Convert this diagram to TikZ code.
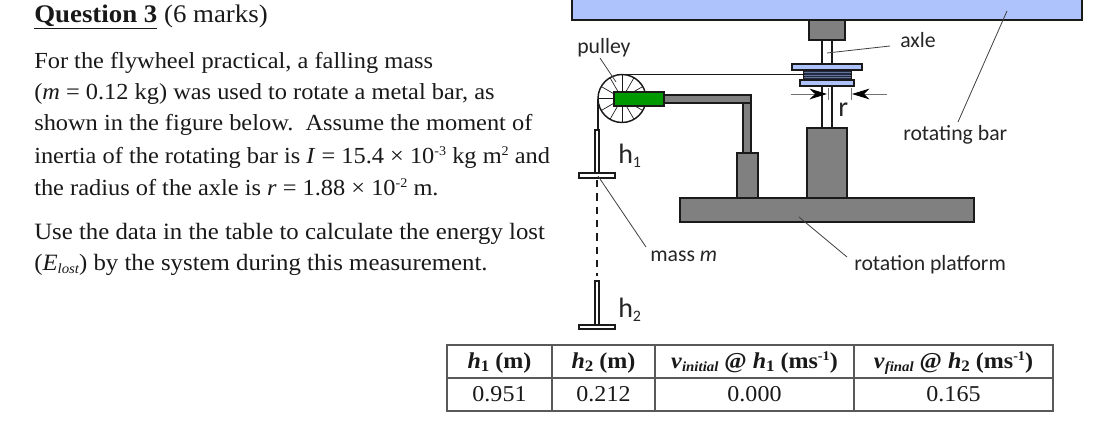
\documentclass[tikz,border=0pt]{standalone}
\usepackage{fontspec}
\setmainfont{Liberation Serif}[FakeStretch=1.06]
\newfontfamily\lab{Carlito}
\usetikzlibrary{arrows.meta}
\definecolor{barblue}{HTML}{AEC2FB}
\definecolor{midgray}{HTML}{808080}
\definecolor{darkline}{HTML}{1A1A1A}
\definecolor{spool}{HTML}{1F2A44}
\definecolor{grn}{HTML}{009A00}
\definecolor{leader}{HTML}{404040}
\newcommand{\supt}[1]{\raisebox{0.75ex}{\fontsize{10}{10}\selectfont #1}}
\newcommand{\subt}[1]{\raisebox{-0.35ex}{\fontsize{10.5}{10}\selectfont\itshape #1}}
\newcommand{\subl}[1]{\raisebox{-0.35ex}{\fontsize{12}{12}\selectfont #1}}
\tikzset{
  body/.style={anchor=base west,inner sep=0pt,font=\fontsize{17.25}{18}\selectfont,text=black!90},
  bodywide/.style={anchor=base west,inner sep=0pt,font=\fontsize{17.55}{18}\selectfont,text=black!90},
  head/.style={anchor=base west,inner sep=0pt,font=\fontsize{19}{20}\selectfont,text=black!90},
  labl/.style={anchor=base west,inner sep=0pt,font=\lab\fontsize{16.3}{18}\selectfont,text=black!85},
  hlab/.style={anchor=base west,inner sep=0pt,font=\lab\fontsize{21}{22}\selectfont,text=black!85},
  cell/.style={anchor=base,inner sep=0pt,font=\fontsize{17}{18}\selectfont,text=black!90},
  solid gray/.style={fill=midgray,draw=darkline,line width=1.1pt},
  blue part/.style={fill=barblue,draw=darkline,line width=1.1pt},
  white part/.style={fill=white,draw=darkline,line width=1.1pt},
  leaderline/.style={draw=leader,line width=0.6pt},
  dimline/.style={draw=black!55,line width=0.7pt},
  tabline/.style={draw=black!65,line width=0.9pt}
}
\begin{document}
\begin{tikzpicture}[x=0.75pt,y=-0.75pt]
\path[use as bounding box] (0,0) rectangle (1104,425);
\clip (0,0) rectangle (1104,425);
\fill[white] (0,0) rectangle (1104,425);
% text
\node[head] (q) at (34,22) {\textbf{\underline{Question 3}} (6 marks)};
\node[body] (l1) at (34,68) {For the flywheel practical, a falling mass};
\node[body] (l2) at (34,99) {(\textit{m} = 0.12 kg) was used to rotate a metal bar, as};
\node[body] (l3) at (34,130) {shown in the figure below.\ \ Assume the moment of};
\node[body] (l4) at (34,163) {inertia of the rotating bar is \textit{I} = 15.4 × 10\supt{-3} kg m\supt{2} and};
\node[body] (l5) at (34,195) {the radius of the axle is \textit{r} = 1.88 × 10\supt{-2} m.};
\node[bodywide] (l6) at (34,239) {Use the data in the table to calculate the energy lost};
\node[bodywide] (l7) at (34,270) {(\textit{E}\subt{lost}) by the system during this measurement.};
% rotating bar
\path[blue part] (572,-5) rectangle (1082,20);
% axle
\path[white part] (822,38) rectangle (832,130);
% collar and base
\path[solid gray] (809,20) rectangle (845,40);
\path[solid gray] (807,128) rectangle (847,198);
% spool
\path[fill=spool,draw=darkline,line width=0.8pt] (804,70) rectangle (851,80);
\foreach \yy in {72.5,75,77.5} \draw[barblue!60!black,line width=0.4pt] (804,\yy) -- (851,\yy);
\path[blue part] (792,64) rectangle (862,70);
\path[blue part] (800,80) rectangle (854,86);
% pulley
\coordinate (pc) at (622,98.5);
\foreach \a in {0,30,...,330} \draw[darkline,line width=0.5pt] (pc) -- ++(\a:24);
\draw[darkline,line width=1.1pt] (pc) circle[radius=24*0.75pt];
% arm and support
\path[solid gray] (737,153) rectangle (758,198);
\path[solid gray] (743,103) rectangle (751,153);
\path[solid gray] (664,95) -- (751,95) -- (751,103) -- (664,103) -- cycle;
\path[fill=grn,draw=darkline,line width=1.1pt] (614,92) rectangle (664,106);
% platform
\path[solid gray] (680,198) rectangle (974,222);
% string
\draw[darkline,line width=1.3pt] (622,74.5) -- (804,74.5);
\draw[darkline,line width=1.1pt] (598,99) -- (598,130);
% masses
\path[white part] (595,130) rectangle (599,174);
\path[white part] (579,173) rectangle (615,178);
\draw[darkline,line width=1.3pt,dash pattern=on 5.5pt off 4.5pt] (597,180) -- (597,276);
\path[white part] (595,281) rectangle (599,325);
\path[white part] (579,325) rectangle (615,329);
% labels and leaders
\node[labl] (pulley) at (577,53) {pulley};
\coordinate (pulleyend) at (616,82);
\draw[leaderline] (600,58) -- (pulleyend);
\node[labl] (axlelab) at (900,47) {axle};
\coordinate (axleend) at (827,53);
\draw[leaderline] (890,46) -- (axleend);
\node[labl] (barlab) at (903,140) {rotating bar};
\coordinate (barend) at (1007,11);
\draw[leaderline] (958,122) -- (barend);
\node[labl] (platlab) at (854,270) {rotation platform};
\coordinate (platend) at (799,217);
\draw[leaderline] (847,257) -- (platend);
\node[labl] (masslab) at (650,261) {mass \textit{m}};
\coordinate (massend) at (598,176);
\draw[leaderline] (646,247) -- (massend);
\node[hlab] (h1) at (618,163) {h\subl{1}};
\node[hlab] (h2) at (618,317) {h\subl{2}};
\node[hlab] (rlab) at (838,116) {r};
% r dimension
\coordinate (ra) at (791,94); \coordinate (rb) at (827,94);
\coordinate (rc) at (887,94); \coordinate (rd) at (852,94);
\draw[dimline] (828,88) -- (828,100);
\draw[dimline] (851,88) -- (851,100);
\draw[dimline,-{Stealth[length=13pt,width=8pt,inset=4pt,color=black]}] (ra) -- (rb);
\draw[dimline,-{Stealth[length=13pt,width=8pt,inset=4pt,color=black]}] (rc) -- (rd);
% table
\draw[tabline] (447,345) rectangle (1053,411);
\draw[tabline] (447,378) -- (1053,378);
\foreach \xx in {552,655,854} \draw[tabline] (\xx,345) -- (\xx,411);
\node[cell] (t1) at (499.5,368) {\textbf{\textit{h}\subl{\textbf{1}} (m)}};
\node[cell] (t2) at (603.5,368) {\textbf{\textit{h}\subl{\textbf{2}} (m)}};
\node[cell] (t3) at (754.5,368) {\textbf{\textit{v}\subt{\textbf{initial}} @ \textit{h}\subl{\textbf{1}} (ms\supt{-1})}};
\node[cell] (t4) at (953.5,368) {\textbf{\textit{v}\subt{\textbf{final}} @ \textit{h}\subl{\textbf{2}} (ms\supt{-1})}};
\node[cell] (d1) at (499.5,401) {0.951};
\node[cell] (d2) at (603.5,401) {0.212};
\node[cell] (d3) at (754.5,401) {0.000};
\node[cell] (d4) at (953.5,401) {0.165};
\end{tikzpicture}
\end{document}
